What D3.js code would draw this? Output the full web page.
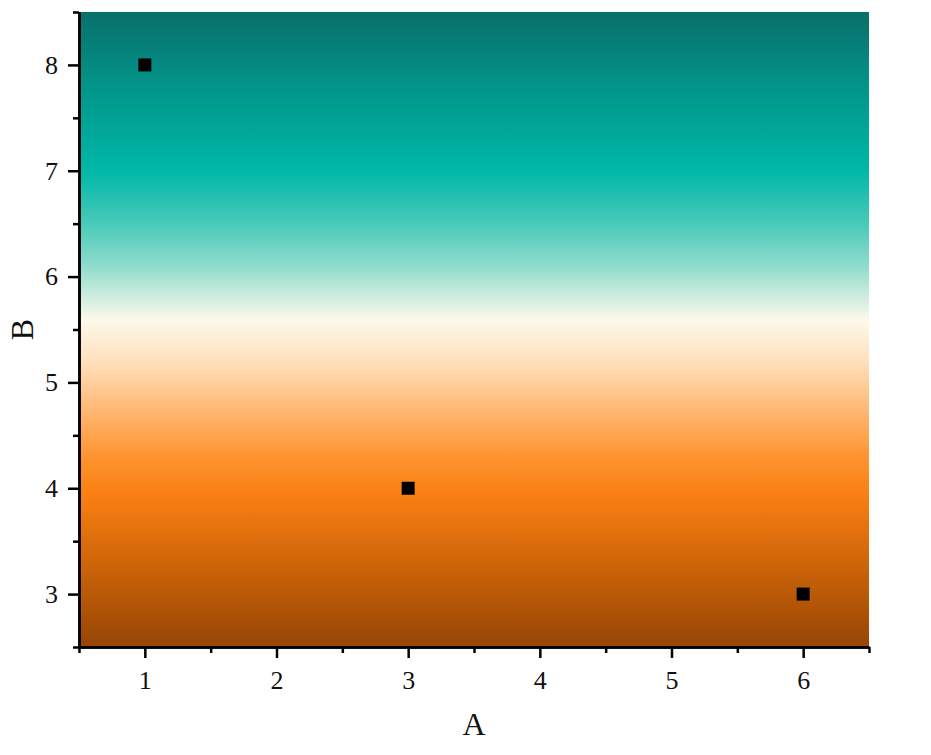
<!DOCTYPE html>
<html>
<head>
<meta charset="utf-8">
<script src="https://cdn.jsdelivr.net/npm/d3@7"></script>
<style>
  html, body { margin: 0; padding: 0; background: #fff; }
  svg text { font-family: "Liberation Serif", "DejaVu Serif", serif; fill: #111; }
</style>
</head>
<body>
<div id="chart"></div>
<script>
// data
const xValues = [ 1, 3, 6 ];
const yValues = [ 8, 4, 3 ];
const xTicks = [ 1, 2, 3, 4, 5, 6 ];
const yTicks = [ 3, 4, 5, 6, 7, 8 ];
const xMinor = [ 0.5, 1.5, 2.5, 3.5, 4.5, 5.5, 6.5 ];
const yMinor = [ 2.5, 3.5, 4.5, 5.5, 6.5, 7.5, 8.5 ];
const xTitle = 'A';
const yTitle = 'B';

const W = 931, H = 755;
const margin = { top: 12, right: 62, bottom: 108, left: 79 };
const width = W - margin.left - margin.right;
const height = H - margin.top - margin.bottom;

const svg = d3.select( '#chart' ).append( 'svg' )
  .attr( 'width', W )
  .attr( 'height', H );

//_____ BACKGROUND GRADIENT _____
const grad = svg.append( 'defs' ).append( 'linearGradient' )
  .attr( 'id', 'bg' )
  .attr( 'x1', 0 ).attr( 'y1', 0 ).attr( 'x2', 0 ).attr( 'y2', 1 );
[
  [ 0, '#08706a' ],
  [ 0.12, '#02958a' ],
  [ 0.25, '#00b8a8' ],
  [ 0.33, '#45c9b8' ],
  [ 0.40, '#8fdccd' ],
  [ 0.485, '#fdf9ea' ],
  [ 0.55, '#ffe0bd' ],
  [ 0.62, '#ffbb7a' ],
  [ 0.70, '#ff9430' ],
  [ 0.76, '#fb7f12' ],
  [ 0.88, '#c96208' ],
  [ 1, '#964506' ]
].forEach( s => grad.append( 'stop' ).attr( 'offset', s[ 0 ] ).attr( 'stop-color', s[ 1 ] ) );

const g = svg.append( 'g' ).attr( 'transform', `translate(${margin.left},${margin.top})` );

const x = d3.scaleLinear().domain( [ 0.5, 6.5 ] ).range( [ 0, width ] );
const y = d3.scaleLinear().domain( [ 2.5, 8.5 ] ).range( [ height, 0 ] );

g.append( 'rect' )
  .attr( 'width', width )
  .attr( 'height', height )
  .attr( 'fill', 'url(#bg)' );

//_____ POINTS _____
const pts = xValues.map( ( v, i ) => ( { x: v, y: yValues[ i ] } ) );
const sz = 13;
g.selectAll( '.pt' ).data( pts ).enter().append( 'rect' )
  .attr( 'class', 'pt' )
  .attr( 'x', d => x( d.x ) - sz / 2 )
  .attr( 'y', d => y( d.y ) - sz / 2 )
  .attr( 'width', sz )
  .attr( 'height', sz )
  .attr( 'fill', '#000' );

//_____ AXES _____
function styleAxis ( sel ) {
  sel.select( '.domain' ).attr( 'stroke', '#000' ).attr( 'stroke-width', 2.5 );
  sel.selectAll( '.tick line' ).attr( 'stroke', '#000' ).attr( 'stroke-width', 2.5 );
  sel.selectAll( '.tick text' ).style( 'font-size', '26px' ).attr( 'fill', '#111' );
}

// minor ticks
g.append( 'g' )
  .attr( 'transform', `translate(0,${height})` )
  .call( d3.axisBottom( x ).tickValues( xMinor ).tickSize( 6 ).tickSizeOuter( 0 ).tickFormat( '' ) )
  .call( styleAxis );
g.append( 'g' )
  .call( d3.axisLeft( y ).tickValues( yMinor ).tickSize( 6 ).tickSizeOuter( 0 ).tickFormat( '' ) )
  .call( styleAxis );

// major ticks
g.append( 'g' )
  .attr( 'id', 'x-axis' )
  .attr( 'transform', `translate(0,${height})` )
  .call( d3.axisBottom( x ).tickValues( xTicks ).tickSize( 11 ).tickSizeOuter( 0 ).tickPadding( 13 ).tickFormat( d3.format( 'd' ) ) )
  .call( styleAxis );
g.append( 'g' )
  .attr( 'id', 'y-axis' )
  .call( d3.axisLeft( y ).tickValues( yTicks ).tickSize( 11 ).tickSizeOuter( 0 ).tickPadding( 10 ).tickFormat( d3.format( 'd' ) ) )
  .call( styleAxis );

//_____ AXIS TITLES _____
svg.append( 'text' )
  .attr( 'x', margin.left + x( 3.5 ) )
  .attr( 'y', 735 )
  .attr( 'text-anchor', 'middle' )
  .style( 'font-size', '32px' )
  .text( xTitle );

svg.append( 'text' )
  .attr( 'transform', `translate(33,${margin.top + y( 5.5 )}) rotate(-90)` )
  .attr( 'text-anchor', 'middle' )
  .style( 'font-size', '32px' )
  .text( yTitle );
</script>
</body>
</html>
